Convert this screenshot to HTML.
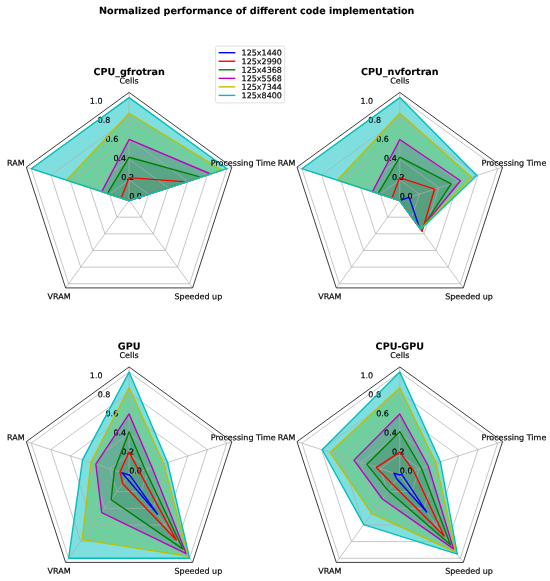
<!DOCTYPE html>
<html><head><meta charset="utf-8"><title>Normalized performance of different code implementation</title>
<style>html,body{margin:0;padding:0;background:#fff}body{width:550px;height:581px;overflow:hidden}svg{display:block}text{font-family:"DejaVu Sans","Liberation Sans",sans-serif;fill:#000;stroke:#000;stroke-width:0.18px;text-rendering:geometricPrecision}.b{font-weight:bold;font-size:9.57px;stroke-width:0.08px}.n{font-size:8.00px}</style></head><body>
<svg width="550" height="581" viewBox="0 0 550 581">
<rect width="550" height="581" fill="#fff"/>
<text class="b" transform="matrix(1 0.0005 0 1 256.7 13.95)" text-anchor="middle">Normalized performance of different code implementation</text>
<g>
<polygon points="129.10,200.50 129.10,200.50 129.10,200.50 129.10,200.50 129.10,200.50" fill="rgb(0,0,255)" fill-opacity="0.5"/>
<polygon points="129.10,177.58 121.27,197.96 129.10,200.50 129.10,200.50 186.55,181.83" fill="rgb(255,0,0)" fill-opacity="0.5"/>
<polygon points="129.10,157.21 107.47,193.47 129.10,200.50 129.10,200.50 200.83,177.19" fill="rgb(0,128,0)" fill-opacity="0.5"/>
<polygon points="129.10,139.48 101.80,191.63 129.10,200.50 129.10,200.50 210.62,174.01" fill="rgb(191,0,191)" fill-opacity="0.5"/>
<polygon points="129.10,113.24 66.57,180.18 129.10,200.50 129.10,200.50 222.07,170.29" fill="rgb(191,191,0)" fill-opacity="0.5"/>
<polygon points="129.10,97.60 31.24,168.70 129.10,200.50 129.10,200.50 226.96,168.70" fill="rgb(0,191,191)" fill-opacity="0.5"/>
<polygon points="129.10,179.92 109.53,194.14 117.00,217.15 141.20,217.15 148.67,194.14" fill="none" stroke="#adadad" stroke-width="0.70"/>
<polygon points="129.10,159.34 89.95,187.78 104.91,233.80 153.29,233.80 168.25,187.78" fill="none" stroke="#adadad" stroke-width="0.70"/>
<polygon points="129.10,138.76 70.38,181.42 92.81,250.45 165.39,250.45 187.82,181.42" fill="none" stroke="#adadad" stroke-width="0.70"/>
<polygon points="129.10,118.18 50.81,175.06 80.71,267.10 177.49,267.10 207.39,175.06" fill="none" stroke="#adadad" stroke-width="0.70"/>
<polygon points="129.10,97.60 31.24,168.70 68.62,283.75 189.58,283.75 226.96,168.70" fill="none" stroke="#adadad" stroke-width="0.70"/>
<line x1="129.10" y1="200.50" x2="129.10" y2="92.45" stroke="#adadad" stroke-width="0.70"/>
<line x1="129.10" y1="200.50" x2="26.34" y2="167.11" stroke="#adadad" stroke-width="0.70"/>
<line x1="129.10" y1="200.50" x2="65.59" y2="287.91" stroke="#adadad" stroke-width="0.70"/>
<line x1="129.10" y1="200.50" x2="192.61" y2="287.91" stroke="#adadad" stroke-width="0.70"/>
<line x1="129.10" y1="200.50" x2="231.86" y2="167.11" stroke="#adadad" stroke-width="0.70"/>
<text class="n" transform="matrix(1 0.0005 0 1 135.50 198.90)" text-anchor="middle">0.0</text>
<text class="n" transform="matrix(1 0.0005 0 1 127.63 179.89)" text-anchor="middle">0.2</text>
<text class="n" transform="matrix(1 0.0005 0 1 119.76 160.88)" text-anchor="middle">0.4</text>
<text class="n" transform="matrix(1 0.0005 0 1 111.89 141.87)" text-anchor="middle">0.6</text>
<text class="n" transform="matrix(1 0.0005 0 1 104.02 122.86)" text-anchor="middle">0.8</text>
<text class="n" transform="matrix(1 0.0005 0 1 96.15 103.85)" text-anchor="middle">1.0</text>
<polygon points="129.10,200.50 129.10,200.50 129.10,200.50 129.10,200.50 129.10,200.50" fill="none" stroke="rgb(0,0,255)" stroke-width="1.4" stroke-linejoin="round"/>
<polygon points="129.10,177.58 121.27,197.96 129.10,200.50 129.10,200.50 186.55,181.83" fill="none" stroke="rgb(255,0,0)" stroke-width="1.4" stroke-linejoin="round"/>
<polygon points="129.10,157.21 107.47,193.47 129.10,200.50 129.10,200.50 200.83,177.19" fill="none" stroke="rgb(0,128,0)" stroke-width="1.4" stroke-linejoin="round"/>
<polygon points="129.10,139.48 101.80,191.63 129.10,200.50 129.10,200.50 210.62,174.01" fill="none" stroke="rgb(191,0,191)" stroke-width="1.4" stroke-linejoin="round"/>
<polygon points="129.10,113.24 66.57,180.18 129.10,200.50 129.10,200.50 222.07,170.29" fill="none" stroke="rgb(191,191,0)" stroke-width="1.4" stroke-linejoin="round"/>
<polygon points="129.10,97.60 31.24,168.70 129.10,200.50 129.10,200.50 226.96,168.70" fill="none" stroke="rgb(0,191,191)" stroke-width="1.4" stroke-linejoin="round"/>
<polygon points="129.10,92.45 26.34,167.11 65.59,287.91 192.61,287.91 231.86,167.11" fill="none" stroke="#1a1a1a" stroke-width="0.85"/>
<text class="n" transform="matrix(1 0.0005 0 1 129.10 83.40)" text-anchor="middle">Cells</text>
<text class="n" transform="matrix(1 0.0005 0 1 15.86 165.81)" text-anchor="middle">RAM</text>
<text class="n" transform="matrix(1 0.0005 0 1 59.14 299.14)" text-anchor="middle">VRAM</text>
<text class="n" transform="matrix(1 0.0005 0 1 198.36 299.14)" text-anchor="middle">Speeded up</text>
<text class="n" transform="matrix(1 0.0005 0 1 243.19 165.81)" text-anchor="middle">Processing Time</text>
<text class="b" transform="matrix(1 0.0005 0 1 129.10 74.95)" text-anchor="middle">CPU_gfrotran</text>
</g>
<g>
<polygon points="399.80,200.50 399.80,200.50 399.80,200.50 419.46,227.56 409.19,197.45" fill="rgb(0,0,255)" fill-opacity="0.5"/>
<polygon points="399.80,177.58 391.97,197.96 399.80,200.50 422.12,231.22 434.54,189.21" fill="rgb(255,0,0)" fill-opacity="0.5"/>
<polygon points="399.80,157.21 378.17,193.47 399.80,200.50 420.97,229.64 451.18,183.81" fill="rgb(0,128,0)" fill-opacity="0.5"/>
<polygon points="399.80,139.48 372.50,191.63 399.80,200.50 420.67,229.22 460.48,180.79" fill="rgb(191,0,191)" fill-opacity="0.5"/>
<polygon points="399.80,113.24 337.27,180.18 399.80,200.50 420.49,228.97 471.53,177.19" fill="rgb(191,191,0)" fill-opacity="0.5"/>
<polygon points="399.80,97.60 301.94,168.70 399.80,200.50 420.61,229.14 476.72,175.51" fill="rgb(0,191,191)" fill-opacity="0.5"/>
<polygon points="399.80,179.92 380.23,194.14 387.70,217.15 411.90,217.15 419.37,194.14" fill="none" stroke="#adadad" stroke-width="0.70"/>
<polygon points="399.80,159.34 360.65,187.78 375.61,233.80 423.99,233.80 438.95,187.78" fill="none" stroke="#adadad" stroke-width="0.70"/>
<polygon points="399.80,138.76 341.08,181.42 363.51,250.45 436.09,250.45 458.52,181.42" fill="none" stroke="#adadad" stroke-width="0.70"/>
<polygon points="399.80,118.18 321.51,175.06 351.41,267.10 448.19,267.10 478.09,175.06" fill="none" stroke="#adadad" stroke-width="0.70"/>
<polygon points="399.80,97.60 301.94,168.70 339.32,283.75 460.28,283.75 497.66,168.70" fill="none" stroke="#adadad" stroke-width="0.70"/>
<line x1="399.80" y1="200.50" x2="399.80" y2="92.45" stroke="#adadad" stroke-width="0.70"/>
<line x1="399.80" y1="200.50" x2="297.04" y2="167.11" stroke="#adadad" stroke-width="0.70"/>
<line x1="399.80" y1="200.50" x2="336.29" y2="287.91" stroke="#adadad" stroke-width="0.70"/>
<line x1="399.80" y1="200.50" x2="463.31" y2="287.91" stroke="#adadad" stroke-width="0.70"/>
<line x1="399.80" y1="200.50" x2="502.56" y2="167.11" stroke="#adadad" stroke-width="0.70"/>
<text class="n" transform="matrix(1 0.0005 0 1 406.20 198.90)" text-anchor="middle">0.0</text>
<text class="n" transform="matrix(1 0.0005 0 1 398.33 179.89)" text-anchor="middle">0.2</text>
<text class="n" transform="matrix(1 0.0005 0 1 390.46 160.88)" text-anchor="middle">0.4</text>
<text class="n" transform="matrix(1 0.0005 0 1 382.59 141.87)" text-anchor="middle">0.6</text>
<text class="n" transform="matrix(1 0.0005 0 1 374.72 122.86)" text-anchor="middle">0.8</text>
<text class="n" transform="matrix(1 0.0005 0 1 366.85 103.85)" text-anchor="middle">1.0</text>
<polygon points="399.80,200.50 399.80,200.50 399.80,200.50 419.46,227.56 409.19,197.45" fill="none" stroke="rgb(0,0,255)" stroke-width="1.4" stroke-linejoin="round"/>
<polygon points="399.80,177.58 391.97,197.96 399.80,200.50 422.12,231.22 434.54,189.21" fill="none" stroke="rgb(255,0,0)" stroke-width="1.4" stroke-linejoin="round"/>
<polygon points="399.80,157.21 378.17,193.47 399.80,200.50 420.97,229.64 451.18,183.81" fill="none" stroke="rgb(0,128,0)" stroke-width="1.4" stroke-linejoin="round"/>
<polygon points="399.80,139.48 372.50,191.63 399.80,200.50 420.67,229.22 460.48,180.79" fill="none" stroke="rgb(191,0,191)" stroke-width="1.4" stroke-linejoin="round"/>
<polygon points="399.80,113.24 337.27,180.18 399.80,200.50 420.49,228.97 471.53,177.19" fill="none" stroke="rgb(191,191,0)" stroke-width="1.4" stroke-linejoin="round"/>
<polygon points="399.80,97.60 301.94,168.70 399.80,200.50 420.61,229.14 476.72,175.51" fill="none" stroke="rgb(0,191,191)" stroke-width="1.4" stroke-linejoin="round"/>
<polygon points="399.80,92.45 297.04,167.11 336.29,287.91 463.31,287.91 502.56,167.11" fill="none" stroke="#1a1a1a" stroke-width="0.85"/>
<text class="n" transform="matrix(1 0.0005 0 1 399.80 83.40)" text-anchor="middle">Cells</text>
<text class="n" transform="matrix(1 0.0005 0 1 286.56 165.81)" text-anchor="middle">RAM</text>
<text class="n" transform="matrix(1 0.0005 0 1 329.84 299.14)" text-anchor="middle">VRAM</text>
<text class="n" transform="matrix(1 0.0005 0 1 469.06 299.14)" text-anchor="middle">Speeded up</text>
<text class="n" transform="matrix(1 0.0005 0 1 513.89 165.81)" text-anchor="middle">Processing Time</text>
<text class="b" transform="matrix(1 0.0005 0 1 399.80 74.95)" text-anchor="middle">CPU_nvfortran</text>
</g>
<g>
<polygon points="129.10,475.00 121.76,472.62 126.68,478.33 157.53,514.13 129.59,474.84" fill="rgb(0,0,255)" fill-opacity="0.5"/>
<polygon points="129.10,452.08 120.00,472.04 122.75,483.74 176.28,539.93 139.38,471.66" fill="rgb(255,0,0)" fill-opacity="0.5"/>
<polygon points="129.10,431.71 114.42,470.23 111.14,499.72 182.93,549.09 145.15,469.79" fill="rgb(0,128,0)" fill-opacity="0.5"/>
<polygon points="129.10,413.98 95.83,464.19 101.70,512.71 186.26,553.67 152.10,467.53" fill="rgb(191,0,191)" fill-opacity="0.5"/>
<polygon points="129.10,387.74 90.93,462.60 82.17,539.60 188.25,556.42 163.74,463.74" fill="rgb(191,191,0)" fill-opacity="0.5"/>
<polygon points="129.10,372.10 82.52,459.86 68.62,558.25 189.58,558.25 167.56,462.50" fill="rgb(0,191,191)" fill-opacity="0.5"/>
<polygon points="129.10,454.42 109.53,468.64 117.00,491.65 141.20,491.65 148.67,468.64" fill="none" stroke="#adadad" stroke-width="0.70"/>
<polygon points="129.10,433.84 89.95,462.28 104.91,508.30 153.29,508.30 168.25,462.28" fill="none" stroke="#adadad" stroke-width="0.70"/>
<polygon points="129.10,413.26 70.38,455.92 92.81,524.95 165.39,524.95 187.82,455.92" fill="none" stroke="#adadad" stroke-width="0.70"/>
<polygon points="129.10,392.68 50.81,449.56 80.71,541.60 177.49,541.60 207.39,449.56" fill="none" stroke="#adadad" stroke-width="0.70"/>
<polygon points="129.10,372.10 31.24,443.20 68.62,558.25 189.58,558.25 226.96,443.20" fill="none" stroke="#adadad" stroke-width="0.70"/>
<line x1="129.10" y1="475.00" x2="129.10" y2="366.95" stroke="#adadad" stroke-width="0.70"/>
<line x1="129.10" y1="475.00" x2="26.34" y2="441.61" stroke="#adadad" stroke-width="0.70"/>
<line x1="129.10" y1="475.00" x2="65.59" y2="562.41" stroke="#adadad" stroke-width="0.70"/>
<line x1="129.10" y1="475.00" x2="192.61" y2="562.41" stroke="#adadad" stroke-width="0.70"/>
<line x1="129.10" y1="475.00" x2="231.86" y2="441.61" stroke="#adadad" stroke-width="0.70"/>
<text class="n" transform="matrix(1 0.0005 0 1 135.50 473.40)" text-anchor="middle">0.0</text>
<text class="n" transform="matrix(1 0.0005 0 1 127.63 454.39)" text-anchor="middle">0.2</text>
<text class="n" transform="matrix(1 0.0005 0 1 119.76 435.38)" text-anchor="middle">0.4</text>
<text class="n" transform="matrix(1 0.0005 0 1 111.89 416.37)" text-anchor="middle">0.6</text>
<text class="n" transform="matrix(1 0.0005 0 1 104.02 397.36)" text-anchor="middle">0.8</text>
<text class="n" transform="matrix(1 0.0005 0 1 96.15 378.35)" text-anchor="middle">1.0</text>
<polygon points="129.10,475.00 121.76,472.62 126.68,478.33 157.53,514.13 129.59,474.84" fill="none" stroke="rgb(0,0,255)" stroke-width="1.4" stroke-linejoin="round"/>
<polygon points="129.10,452.08 120.00,472.04 122.75,483.74 176.28,539.93 139.38,471.66" fill="none" stroke="rgb(255,0,0)" stroke-width="1.4" stroke-linejoin="round"/>
<polygon points="129.10,431.71 114.42,470.23 111.14,499.72 182.93,549.09 145.15,469.79" fill="none" stroke="rgb(0,128,0)" stroke-width="1.4" stroke-linejoin="round"/>
<polygon points="129.10,413.98 95.83,464.19 101.70,512.71 186.26,553.67 152.10,467.53" fill="none" stroke="rgb(191,0,191)" stroke-width="1.4" stroke-linejoin="round"/>
<polygon points="129.10,387.74 90.93,462.60 82.17,539.60 188.25,556.42 163.74,463.74" fill="none" stroke="rgb(191,191,0)" stroke-width="1.4" stroke-linejoin="round"/>
<polygon points="129.10,372.10 82.52,459.86 68.62,558.25 189.58,558.25 167.56,462.50" fill="none" stroke="rgb(0,191,191)" stroke-width="1.4" stroke-linejoin="round"/>
<polygon points="129.10,366.95 26.34,441.61 65.59,562.41 192.61,562.41 231.86,441.61" fill="none" stroke="#1a1a1a" stroke-width="0.85"/>
<text class="n" transform="matrix(1 0.0005 0 1 129.10 357.90)" text-anchor="middle">Cells</text>
<text class="n" transform="matrix(1 0.0005 0 1 15.86 440.31)" text-anchor="middle">RAM</text>
<text class="n" transform="matrix(1 0.0005 0 1 59.14 573.64)" text-anchor="middle">VRAM</text>
<text class="n" transform="matrix(1 0.0005 0 1 198.36 573.64)" text-anchor="middle">Speeded up</text>
<text class="n" transform="matrix(1 0.0005 0 1 243.19 440.31)" text-anchor="middle">Processing Time</text>
<text class="b" transform="matrix(1 0.0005 0 1 129.10 349.45)" text-anchor="middle">GPU</text>
</g>
<g>
<polygon points="399.80,475.00 393.93,473.09 396.90,479.00 426.71,512.05 401.76,474.36" fill="rgb(0,0,255)" fill-opacity="0.5"/>
<polygon points="399.80,452.08 376.41,467.40 392.84,484.57 444.13,536.02 413.50,470.55" fill="rgb(255,0,0)" fill-opacity="0.5"/>
<polygon points="399.80,431.71 366.92,464.32 388.31,490.82 450.48,544.76 421.33,468.00" fill="rgb(0,128,0)" fill-opacity="0.5"/>
<polygon points="399.80,413.98 354.00,460.12 382.38,498.98 453.51,548.92 428.18,465.78" fill="rgb(191,0,191)" fill-opacity="0.5"/>
<polygon points="399.80,387.74 330.12,452.36 371.74,513.63 455.93,552.25 436.01,463.23" fill="rgb(191,191,0)" fill-opacity="0.5"/>
<polygon points="399.80,372.10 322.19,449.78 363.75,524.62 457.32,554.17 440.41,461.80" fill="rgb(0,191,191)" fill-opacity="0.5"/>
<polygon points="399.80,454.42 380.23,468.64 387.70,491.65 411.90,491.65 419.37,468.64" fill="none" stroke="#adadad" stroke-width="0.70"/>
<polygon points="399.80,433.84 360.65,462.28 375.61,508.30 423.99,508.30 438.95,462.28" fill="none" stroke="#adadad" stroke-width="0.70"/>
<polygon points="399.80,413.26 341.08,455.92 363.51,524.95 436.09,524.95 458.52,455.92" fill="none" stroke="#adadad" stroke-width="0.70"/>
<polygon points="399.80,392.68 321.51,449.56 351.41,541.60 448.19,541.60 478.09,449.56" fill="none" stroke="#adadad" stroke-width="0.70"/>
<polygon points="399.80,372.10 301.94,443.20 339.32,558.25 460.28,558.25 497.66,443.20" fill="none" stroke="#adadad" stroke-width="0.70"/>
<line x1="399.80" y1="475.00" x2="399.80" y2="366.95" stroke="#adadad" stroke-width="0.70"/>
<line x1="399.80" y1="475.00" x2="297.04" y2="441.61" stroke="#adadad" stroke-width="0.70"/>
<line x1="399.80" y1="475.00" x2="336.29" y2="562.41" stroke="#adadad" stroke-width="0.70"/>
<line x1="399.80" y1="475.00" x2="463.31" y2="562.41" stroke="#adadad" stroke-width="0.70"/>
<line x1="399.80" y1="475.00" x2="502.56" y2="441.61" stroke="#adadad" stroke-width="0.70"/>
<text class="n" transform="matrix(1 0.0005 0 1 406.20 473.40)" text-anchor="middle">0.0</text>
<text class="n" transform="matrix(1 0.0005 0 1 398.33 454.39)" text-anchor="middle">0.2</text>
<text class="n" transform="matrix(1 0.0005 0 1 390.46 435.38)" text-anchor="middle">0.4</text>
<text class="n" transform="matrix(1 0.0005 0 1 382.59 416.37)" text-anchor="middle">0.6</text>
<text class="n" transform="matrix(1 0.0005 0 1 374.72 397.36)" text-anchor="middle">0.8</text>
<text class="n" transform="matrix(1 0.0005 0 1 366.85 378.35)" text-anchor="middle">1.0</text>
<polygon points="399.80,475.00 393.93,473.09 396.90,479.00 426.71,512.05 401.76,474.36" fill="none" stroke="rgb(0,0,255)" stroke-width="1.4" stroke-linejoin="round"/>
<polygon points="399.80,452.08 376.41,467.40 392.84,484.57 444.13,536.02 413.50,470.55" fill="none" stroke="rgb(255,0,0)" stroke-width="1.4" stroke-linejoin="round"/>
<polygon points="399.80,431.71 366.92,464.32 388.31,490.82 450.48,544.76 421.33,468.00" fill="none" stroke="rgb(0,128,0)" stroke-width="1.4" stroke-linejoin="round"/>
<polygon points="399.80,413.98 354.00,460.12 382.38,498.98 453.51,548.92 428.18,465.78" fill="none" stroke="rgb(191,0,191)" stroke-width="1.4" stroke-linejoin="round"/>
<polygon points="399.80,387.74 330.12,452.36 371.74,513.63 455.93,552.25 436.01,463.23" fill="none" stroke="rgb(191,191,0)" stroke-width="1.4" stroke-linejoin="round"/>
<polygon points="399.80,372.10 322.19,449.78 363.75,524.62 457.32,554.17 440.41,461.80" fill="none" stroke="rgb(0,191,191)" stroke-width="1.4" stroke-linejoin="round"/>
<polygon points="399.80,366.95 297.04,441.61 336.29,562.41 463.31,562.41 502.56,441.61" fill="none" stroke="#1a1a1a" stroke-width="0.85"/>
<text class="n" transform="matrix(1 0.0005 0 1 399.80 357.90)" text-anchor="middle">Cells</text>
<text class="n" transform="matrix(1 0.0005 0 1 286.56 440.31)" text-anchor="middle">RAM</text>
<text class="n" transform="matrix(1 0.0005 0 1 329.84 573.64)" text-anchor="middle">VRAM</text>
<text class="n" transform="matrix(1 0.0005 0 1 469.06 573.64)" text-anchor="middle">Speeded up</text>
<text class="n" transform="matrix(1 0.0005 0 1 513.89 440.31)" text-anchor="middle">Processing Time</text>
<text class="b" transform="matrix(1 0.0005 0 1 399.80 349.45)" text-anchor="middle">CPU-GPU</text>
</g>
<rect x="215.6" y="46.1" width="69.1" height="56.8" rx="1.6" ry="1.6" fill="#fff" fill-opacity="0.8" stroke="#ccc" stroke-opacity="0.8" stroke-width="0.8"/>
<line x1="218.6" y1="52.70" x2="235.3" y2="52.70" stroke="rgb(0,0,255)" stroke-width="1.4"/>
<text class="n" transform="matrix(1 0.0005 0 1 241.6 55.60)">125x1440</text>
<line x1="218.6" y1="61.24" x2="235.3" y2="61.24" stroke="rgb(255,0,0)" stroke-width="1.4"/>
<text class="n" transform="matrix(1 0.0005 0 1 241.6 64.14)">125x2990</text>
<line x1="218.6" y1="69.78" x2="235.3" y2="69.78" stroke="rgb(0,128,0)" stroke-width="1.4"/>
<text class="n" transform="matrix(1 0.0005 0 1 241.6 72.68)">125x4368</text>
<line x1="218.6" y1="78.32" x2="235.3" y2="78.32" stroke="rgb(191,0,191)" stroke-width="1.4"/>
<text class="n" transform="matrix(1 0.0005 0 1 241.6 81.22)">125x5568</text>
<line x1="218.6" y1="86.86" x2="235.3" y2="86.86" stroke="rgb(191,191,0)" stroke-width="1.4"/>
<text class="n" transform="matrix(1 0.0005 0 1 241.6 89.76)">125x7344</text>
<line x1="218.6" y1="95.40" x2="235.3" y2="95.40" stroke="rgb(0,191,191)" stroke-width="1.4"/>
<text class="n" transform="matrix(1 0.0005 0 1 241.6 98.30)">125x8400</text>
</svg></body></html>
